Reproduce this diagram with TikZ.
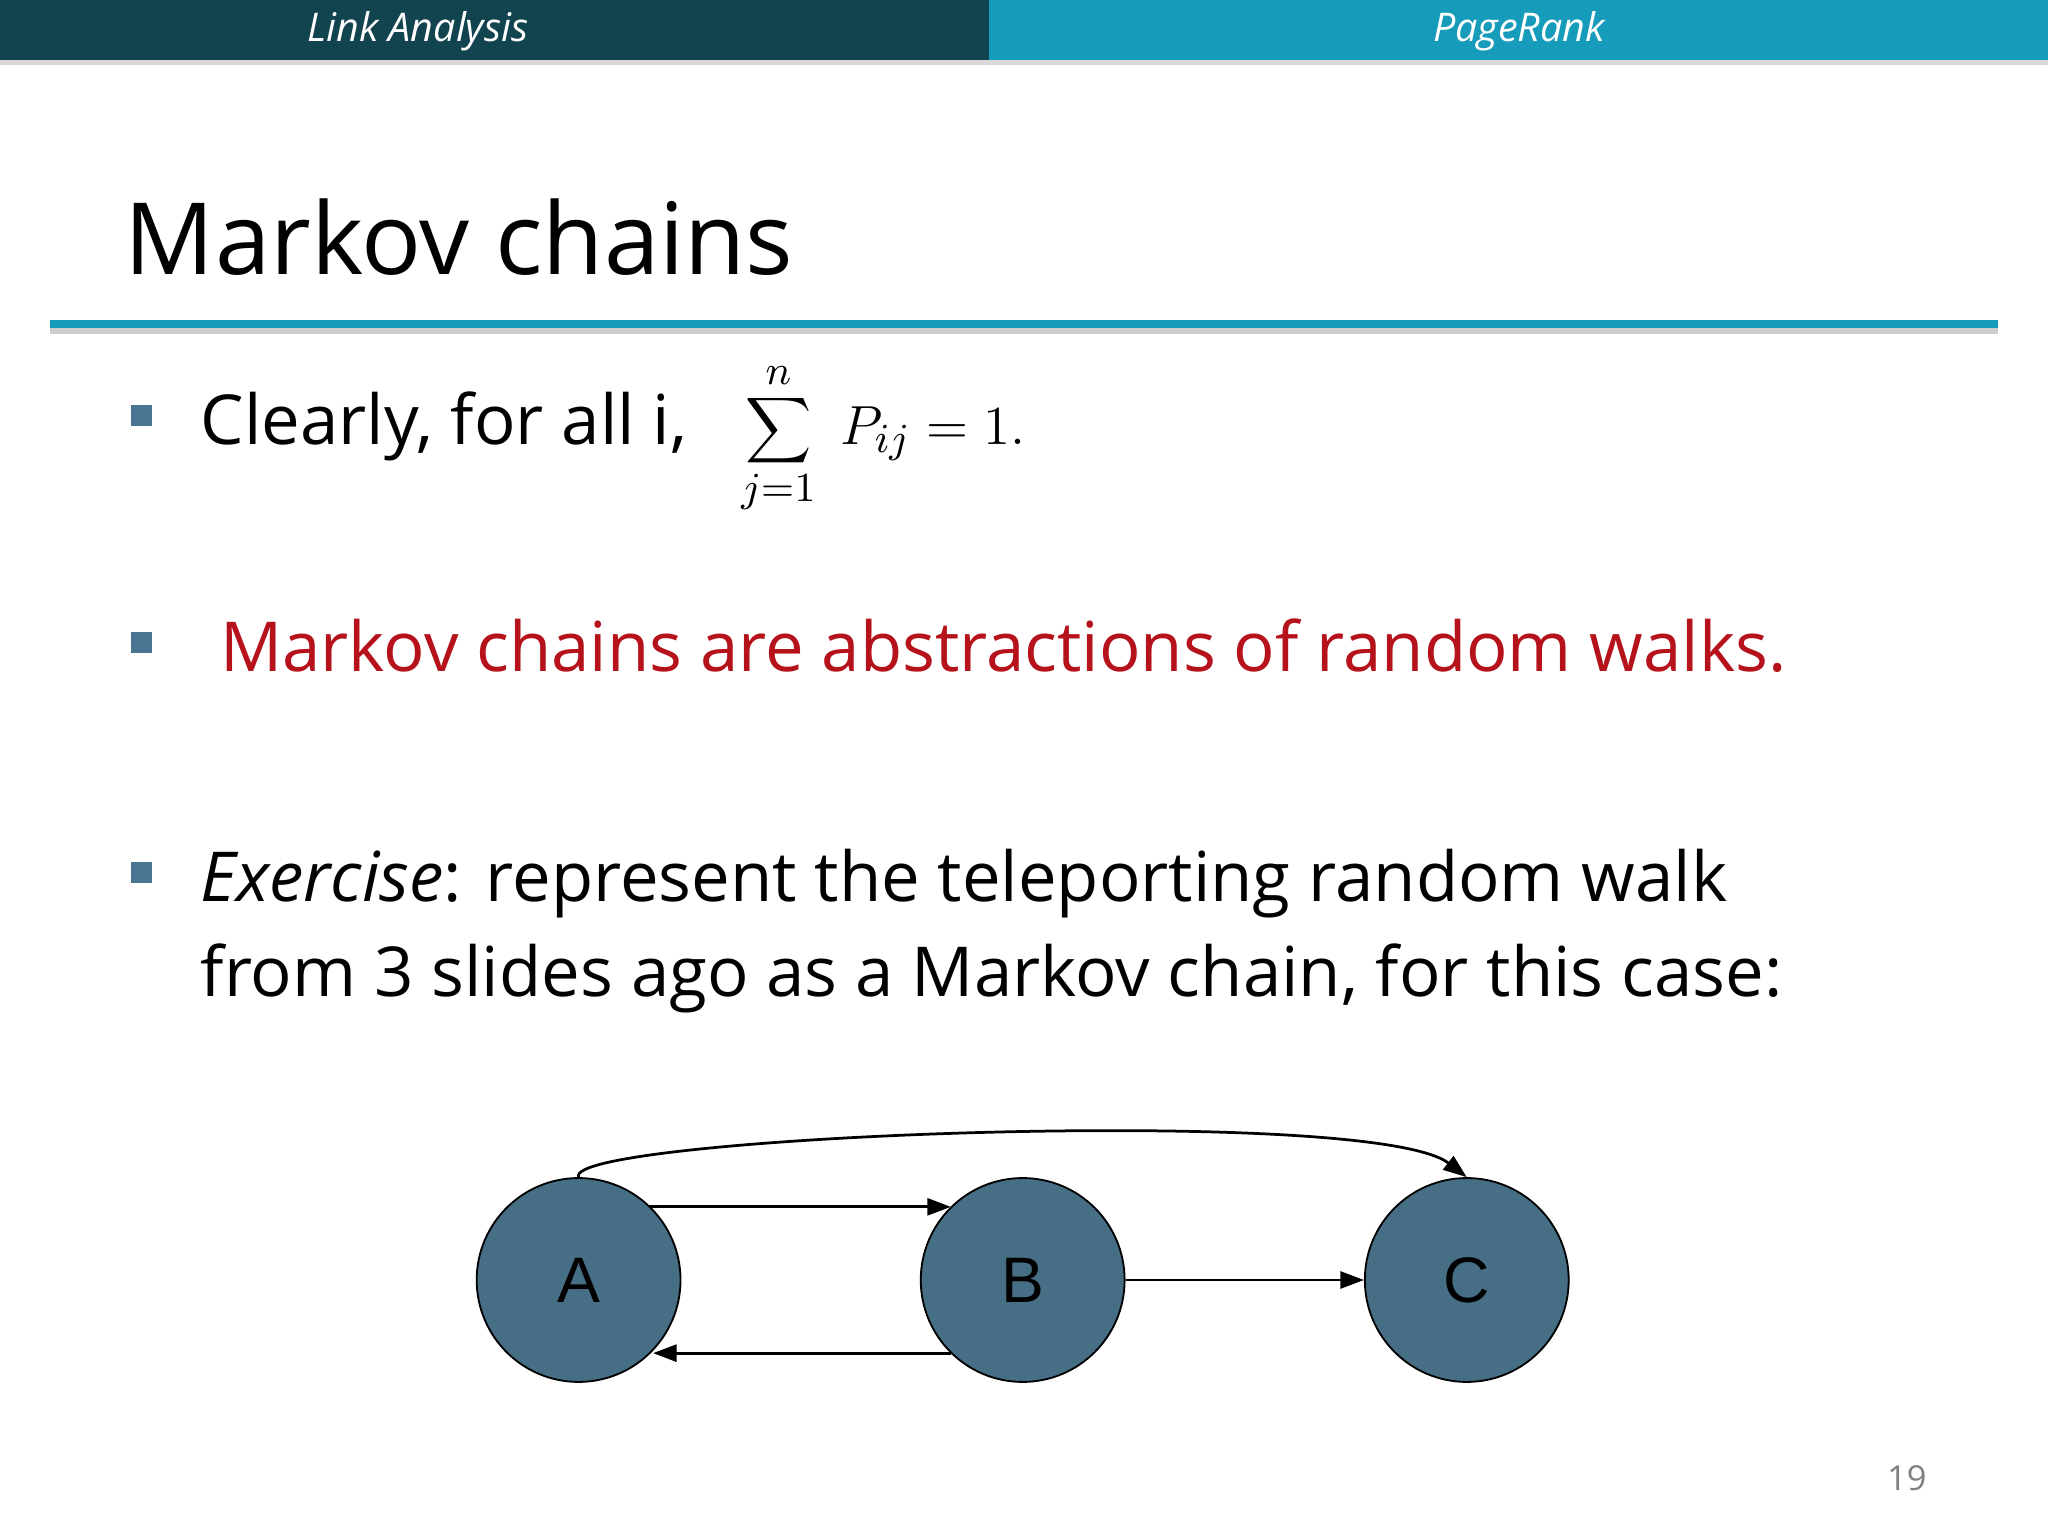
\documentclass[tikz,border=0pt]{standalone}
\usepackage{fontspec}
\setmainfont{Open Sans}
\newfontfamily\arialf{Liberation Sans}
\usetikzlibrary{arrows.meta}
\definecolor{dkteal}{HTML}{12444F}
\definecolor{ltteal}{HTML}{169CBA}
\definecolor{bul}{HTML}{4A7590}
\definecolor{nodef}{HTML}{466F85}
\definecolor{redt}{HTML}{B5121B}
\tikzset{
 st/.style={circle,draw=black,fill=nodef,minimum size=1.56cm,inner sep=0pt,font=\arialf\fontsize{14}{16}\selectfont},
 ar/.style={-{Triangle[length=1.8mm,width=1.3mm]},line width=0.6pt},
 bull/.style={fill=bul,minimum size=0.16cm,inner sep=0pt},
 txt/.style={anchor=base west,inner sep=0pt,font=\fontsize{15}{18}\selectfont}
}
\begin{document}
\begin{tikzpicture}[x=0.01cm,y=-0.01cm]
\useasboundingbox (0,0) rectangle (1568,1176);
\fill[white] (0,0) rectangle (1568,1176);
\fill[dkteal] (0,0) rectangle (757,46);
\fill[ltteal] (757,0) rectangle (1568,46);
\fill[black!15] (0,46) rectangle (1568,50);
\node[white,font=\itshape\fontsize{8.6}{11}\selectfont] (h1) at (320,24) {Link Analysis};
\node[white,font=\itshape\fontsize{8.6}{11}\selectfont] (h2) at (1163,24) {PageRank};
\node[txt,font=\fontsize{21.7}{26}\selectfont] (title) at (95,210) {Markov chains};
\fill[black!20] (38,250) rectangle (1530,256);
\fill[ltteal] (38,245) rectangle (1530,251);
\node[bull] (b1) at (108,318) {};
\node[bull] (b2) at (108,492) {};
\node[bull] (b3) at (108,668) {};
\node[txt] (t1) at (153,340) {Clearly, for all i,};
\node[anchor=base west,inner sep=0pt,font=\fontsize{13}{15}\selectfont] (m1) at (567,340) {$\displaystyle\sum_{j=1}^{n}\;P_{ij}=1.$};
\node[txt,text=redt] (t2) at (168,514) {Markov chains are abstractions of random walks.};
\node[txt] (t3) at (153,690) {\textit{Exercise}: represent the teleporting random walk};
\node[txt] (t4) at (153,763) {from 3 slides ago as a Markov chain, for this case:};
\node[st] (A) at (443,980) {A};
\node[st] (B) at (783,980) {B};
\node[st] (C) at (1123,980) {C};
\coordinate (p1) at (497,924); \coordinate (p2) at (728,924);
\draw[ar] (p1) -- (p2);
\coordinate (q1) at (728,1036); \coordinate (q2) at (500,1036);
\draw[ar] (q1) -- (q2);
\draw[ar] (B.east) -- (C.west);
\draw[ar] (A.north) .. controls (430,870) and (1050,845) .. (C.north);
\node[text=black!50,font=\fontsize{7.5}{9}\selectfont] (pg) at (1460,1132) {19};
\end{tikzpicture}
\end{document}
